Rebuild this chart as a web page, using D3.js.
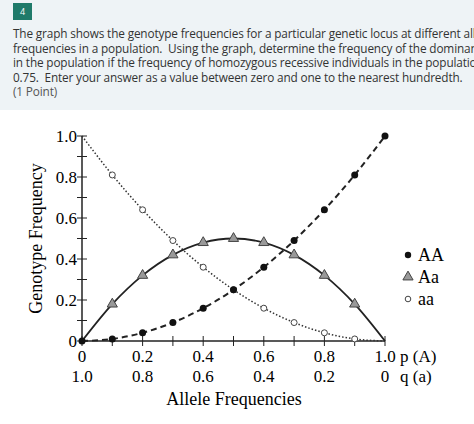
<!DOCTYPE html>
<html><head><meta charset="utf-8">
<script src="https://cdn.jsdelivr.net/npm/d3@7"></script>
<style>
body{margin:0;background:#fff;}
#head{position:absolute;left:0;top:0;width:474px;height:110px;background:#eef3f6;}
#badge{position:absolute;left:13px;top:3px;width:19px;height:17px;background:#1f7a6a;color:#fff;font:9px "Open Sans";text-align:center;line-height:17px;}
#q{position:absolute;left:13px;top:26px;font:11.8px "Open Sans";line-height:14.5px;color:#333;white-space:nowrap;letter-spacing:-0.15px;}
svg{position:absolute;left:0;top:0;}
</style></head><body>
<div id="head"><div id="badge">4</div>
<div id="q">The graph shows the genotype frequencies for a particular genetic locus at different allele<br>frequencies in a population.&nbsp; Using the graph, determine the frequency of the dominant allele<br>in the population if the frequency of homozygous recessive individuals in the population is<br>0.75.&nbsp; Enter your answer as a value between zero and one to the nearest hundredth.<br><span style="color:#555">(1 Point)</span></div></div>
<svg id="c" width="474" height="424"></svg>
<script>
var pVals = [0, 0.1, 0.2, 0.3, 0.4, 0.5, 0.6, 0.7, 0.8, 0.9, 1.0];
var AA = [0, 0.01, 0.04, 0.09, 0.16, 0.25, 0.36, 0.49, 0.64, 0.81, 1.0];
var Aa = [0, 0.18, 0.32, 0.42, 0.48, 0.50, 0.48, 0.42, 0.32, 0.18, 0];
var aa = [1.0, 0.81, 0.64, 0.49, 0.36, 0.25, 0.16, 0.09, 0.04, 0.01, 0];
var pLabels = ["0", "0.2", "0.4", "0.6", "0.8", "1.0"];
var qLabels = ["1.0", "0.8", "0.6", "0.4", "0.2", "0"];
var yLabels = ["0", "0.2", "0.4", "0.6", "0.8", "1.0"];

var svg = d3.select("#c");
var x = d3.scaleLinear().domain([0, 1]).range([82, 385]);
var y = d3.scaleLinear().domain([0, 1]).range([341, 136]);
var serif = "Liberation Serif";
var g = svg.append("g");

// axes
g.append("line").attr("x1", x(0)).attr("x2", x(1)).attr("y1", y(0)).attr("y2", y(0)).attr("stroke", "#222").attr("stroke-width", 1.5);
g.append("line").attr("x1", x(0)).attr("x2", x(0)).attr("y1", y(0)).attr("y2", y(1)).attr("stroke", "#222").attr("stroke-width", 1.5);
d3.range(0, 1.01, 0.1).forEach(function(t) {
    g.append("line").attr("x1", x(t)).attr("x2", x(t)).attr("y1", y(0) - 5).attr("y2", y(0) + 5).attr("stroke", "#222");
    g.append("line").attr("x1", x(0) - 5).attr("x2", x(0) + 5).attr("y1", y(t)).attr("y2", y(t)).attr("stroke", "#222");
});
pLabels.forEach(function(l, i) {
    g.append("text").attr("x", x(i * 0.2)).attr("y", 362).attr("text-anchor", "middle").style("font", "17px " + serif).text(l);
    g.append("text").attr("x", x(i * 0.2)).attr("y", 382).attr("text-anchor", "middle").style("font", "17px " + serif).text(qLabels[i]);
});
yLabels.forEach(function(l, i) {
    g.append("text").attr("x", x(0) - 5).attr("y", y(i * 0.2) + 6).attr("text-anchor", "end").style("font", "17px " + serif).text(l);
});
g.append("text").attr("x", 400).attr("y", 362).style("font", "17px " + serif).text("p (A)");
g.append("text").attr("x", 400).attr("y", 382).style("font", "17px " + serif).text("q (a)");
g.append("text").attr("x", 234).attr("y", 405).attr("text-anchor", "middle").style("font", "18px " + serif).text("Allele Frequencies");
g.append("text").attr("transform", "translate(42," + y(0.5) + ") rotate(-90)").attr("text-anchor", "middle").style("font", "18px " + serif).text("Genotype Frequency");

// curves
var line = d3.line().x(function(d) { return x(d[0]); }).y(function(d) { return y(d[1]); }).curve(d3.curveMonotoneX);
function pts(arr) { return pVals.map(function(p, i) { return [p, arr[i]]; }); }
g.append("path").attr("d", line(pts(aa))).attr("fill", "none").attr("stroke", "#333").attr("stroke-width", 1.5).attr("stroke-dasharray", "1.5,2");
g.append("path").attr("d", line(pts(Aa))).attr("fill", "none").attr("stroke", "#222").attr("stroke-width", 1.8);
g.append("path").attr("d", line(pts(AA))).attr("fill", "none").attr("stroke", "#222").attr("stroke-width", 2).attr("stroke-dasharray", "6,4");

var tri = d3.symbol().type(d3.symbolTriangle).size(45);
pts(aa).slice(1, 10).forEach(function(d) {
    g.append("circle").attr("cx", x(d[0])).attr("cy", y(d[1])).attr("r", 3).attr("fill", "#fff").attr("stroke", "#444");
});
pts(Aa).slice(1, 10).forEach(function(d) {
    g.append("path").attr("d", tri).attr("transform", "translate(" + x(d[0]) + "," + y(d[1]) + ")").attr("fill", "#999").attr("stroke", "#444");
});
pts(AA).forEach(function(d) {
    g.append("circle").attr("cx", x(d[0])).attr("cy", y(d[1])).attr("r", 3.5).attr("fill", "#111");
});

// legend
g.append("circle").attr("cx", 408).attr("cy", 255).attr("r", 3.2).attr("fill", "#111");
g.append("path").attr("d", tri).attr("transform", "translate(408,277)").attr("fill", "#999").attr("stroke", "#444");
g.append("circle").attr("cx", 408).attr("cy", 299).attr("r", 2.8).attr("fill", "#fff").attr("stroke", "#444");
[["AA", 261], ["Aa", 283], ["aa", 305]].forEach(function(l) {
    g.append("text").attr("x", 418).attr("y", l[1]).style("font", "18px " + serif).text(l[0]);
});
</script>
</body></html>
